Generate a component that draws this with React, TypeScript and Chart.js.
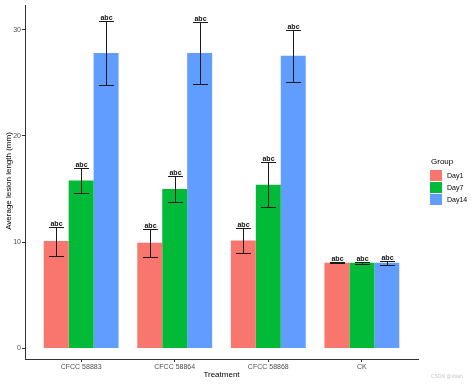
import React, { useEffect, useRef } from "react";
import { Chart, registerables } from "chart.js";

Chart.register(...registerables);

const categories = ["CFCC 58883", "CFCC 58864", "CFCC 58868", "CK"];
const groups = ["Day1", "Day7", "Day14"];
const day1Mean = [10.1, 9.95, 10.15, 8.05];
const day1Sd = [1.37, 1.32, 1.15, 0.04];
const day7Mean = [15.8, 15.0, 15.4, 8.05];
const day7Sd = [1.22, 1.25, 2.12, 0.07];
const day14Mean = [27.8, 27.8, 27.55, 8.05];
const day14Sd = [3.0, 2.92, 2.45, 0.17];
const sigLabels = [
  ["abc", "abc", "abc", "abc"],
  ["abc", "abc", "abc", "abc"],
  ["abc", "abc", "abc", "abc"],
];
const yTicks = [0, 10, 20, 30];
const colors = ["#F8766D", "#00BA38", "#619CFF"];

const FONT = "'Liberation Sans', Arial, sans-serif";

export default function App() {
  const ref = useRef<HTMLCanvasElement | null>(null);
  useEffect(() => {
    document.body.style.margin = "0";
    const means = [day1Mean, day7Mean, day14Mean];
    const sds = [day1Sd, day7Sd, day14Sd];

    const extras = {
      id: "extras",
      afterDatasetsDraw(chart: any) {
        const ctx = chart.ctx;
        const y = chart.scales.y;
        ctx.save();
        means.forEach((m, di) => {
          const meta = chart.getDatasetMeta(di);
          meta.data.forEach((bar: any, i: number) => {
            const cx = Math.round(bar.x) + 0.5;
            const top = Math.round(y.getPixelForValue(m[i] + sds[di][i])) + 0.5;
            const bot = Math.round(y.getPixelForValue(m[i] - sds[di][i])) + 0.5;
            const half = bar.width * 0.3;
            ctx.strokeStyle = "#1a1a1a";
            ctx.lineWidth = 1;
            ctx.beginPath();
            ctx.moveTo(cx, top);
            ctx.lineTo(cx, bot);
            ctx.moveTo(cx - half, top);
            ctx.lineTo(cx + half, top);
            ctx.moveTo(cx - half, bot);
            ctx.lineTo(cx + half, bot);
            ctx.stroke();
            ctx.fillStyle = "#111";
            ctx.font = "bold 7px " + FONT;
            ctx.textAlign = "center";
            ctx.textBaseline = "alphabetic";
            ctx.fillText(sigLabels[di][i], cx, top - 2);
          });
        });
        ctx.fillStyle = "#000";
        ctx.font = "8px " + FONT;
        ctx.textAlign = "center";
        ctx.textBaseline = "middle";
        ctx.fillText("Treatment", (chart.chartArea.left + chart.chartArea.right) / 2, 375);
        ctx.save();
        ctx.translate(9, 181);
        ctx.rotate(-Math.PI / 2);
        ctx.fillText("Average lesion length (mm)", 0, 0);
        ctx.restore();
        ctx.textAlign = "left";
        ctx.font = "8px " + FONT;
        ctx.fillText("Group", 431, 162);
        groups.forEach((g, i) => {
          ctx.fillStyle = colors[i];
          ctx.fillRect(430, 170 + i * 12, 12, 11);
          ctx.fillStyle = "#000";
          ctx.font = "7px " + FONT;
          ctx.fillText(g, 447, 176 + i * 12);
        });
        ctx.fillStyle = "#c8c8c8";
        ctx.font = "5px " + FONT;
        ctx.fillText("CSDN @dttan", 431, 377);
        ctx.restore();
      },
    };

    const chart = new Chart(ref.current as HTMLCanvasElement, {
      type: "bar",
      data: {
        datasets: groups.map((g, di) => ({
          label: g,
          data: means[di].map((v, i) => ({ x: i, y: v })),
          backgroundColor: colors[di],
          borderWidth: 0,
          categoryPercentage: 0.8,
          barPercentage: 1.0,
        })),
      },
      options: {
        animation: false,
        responsive: false,
        maintainAspectRatio: false,
        layout: { padding: { top: 4, right: 56, left: 0, bottom: 0 } },
        plugins: { legend: { display: false }, tooltip: { enabled: false } },
        scales: {
          x: {
            type: "linear",
            offset: false,
            min: -0.6,
            max: 3.6,
            grid: { display: true, offset: false, drawOnChartArea: false, drawTicks: true, tickLength: 3, color: "#333" },
            border: { display: true, color: "#333", width: 1 },
            afterBuildTicks(scale: any) {
              scale.ticks = categories.map((_, i) => ({ value: i }));
            },
            afterFit(scale: any) {
              scale.height = 25;
            },
            ticks: {
              padding: 1,
              color: "#4D4D4D",
              font: { size: 7, family: FONT },
              callback: (v: any) => categories[v as number] ?? "",
              maxRotation: 0,
              autoSkip: false,
            },
          },
          y: {
            min: -1.0,
            max: 32.3,
            grid: { display: true, drawOnChartArea: false, drawTicks: true, tickLength: 3, color: "#333" },
            border: { display: true, color: "#333", width: 1 },
            afterBuildTicks(scale: any) {
              scale.ticks = yTicks.map((v) => ({ value: v }));
            },
            afterFit(scale: any) {
              scale.width = 25;
            },
            ticks: {
              padding: 1,
              color: "#4D4D4D",
              font: { size: 7, family: FONT },
            },
          },
        },
      },
      plugins: [extras],
    } as any);
    return () => chart.destroy();
  }, []);
  return (
    <div style={{ width: 474, height: 384 }}>
      <canvas ref={ref} width={474} height={384} style={{ width: 474, height: 384, display: "block" }} />
    </div>
  );
}
